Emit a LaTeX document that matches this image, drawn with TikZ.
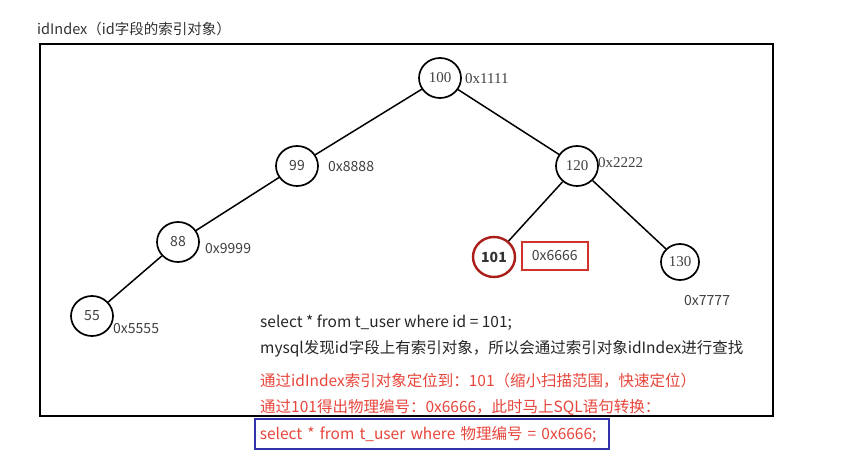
\documentclass[tikz,border=0pt]{standalone}
\usepackage{fontspec}
\setmainfont{Noto Sans CJK SC}
\newfontfamily\numfont{Liberation Serif}
\usetikzlibrary{shapes.geometric}
\begin{document}
\begin{tikzpicture}[x=1pt,y=-1pt,
  tnode/.style={draw=black,line width=1.7pt,ellipse,inner sep=0pt,minimum width=42pt,minimum height=40pt,font=\fontsize{14}{16}\selectfont,text=black!75},
  addr/.style={anchor=west,inner sep=0pt,font=\fontsize{14}{16}\selectfont,text=black!75},
  edge/.style={line width=1.5pt},
  txt/.style={anchor=west,inner sep=0pt,font=\fontsize{15.5}{18}\selectfont,text=black!85},
  redtxt/.style={anchor=west,inner sep=0pt,font=\fontsize{15.5}{18}\selectfont,text={rgb,255:red,232;green,70;blue,60}}
]
\useasboundingbox (0,0) rectangle (856,457);
\fill[white] (0,0) rectangle (856,457);
\node[anchor=west,inner sep=0pt,font=\fontsize{14.5}{16}\selectfont,text=black!80] (title) at (37,29) {idIndex（id字段的索引对象）};
\draw[line width=2pt] (40,44) rectangle (773,416);

\node[tnode,font=\numfont\fontsize{15}{17}\selectfont] (n100) at (440,78) {100};
\node[tnode] (n99) at (297,166) {99};
\node[tnode,font=\numfont\fontsize{15}{17}\selectfont] (n120) at (577,166) {120};
\node[tnode] (n88) at (178,242) {88};
\node[tnode] (n55) at (92,316) {55};
\node[tnode,draw={rgb,255:red,170;green,30;blue,25},line width=2.4pt,text=black!80,font=\bfseries\fontsize{14}{16}\selectfont] (n101) at (494,257) {101};
\node[tnode,font=\numfont\fontsize{15}{17}\selectfont,minimum width=38pt,minimum height=36pt] (n130) at (680,262) {130};

\draw[edge] (n100) -- (n99);
\draw[edge] (n100) -- (n120);
\draw[edge] (n99) -- (n88);
\draw[edge] (n88) -- (n55);
\draw[edge] (n120) -- (n101);
\draw[edge] (n120) -- (n130);

\node[addr,font=\numfont\fontsize{15}{17}\selectfont] (a100) at (465,79) {0x1111};
\node[addr] (a99) at (328,167) {0x8888};
\node[addr,font=\numfont\fontsize{15}{17}\selectfont] (a120) at (598,163) {0x2222};
\node[addr] (a88) at (205,249) {0x9999};
\node[addr] (a55) at (113,329) {0x5555};
\node[addr] (a130) at (684,301) {0x7777};
\node[addr,draw={rgb,255:red,210;green,50;blue,45},line width=1.6pt,minimum width=66pt,minimum height=28pt,inner sep=2pt] (a101) at (521,256) {0x6666};

\node[txt] (l1) at (260,323) {select * from t\_user where id = 101;};
\node[txt] (l2) at (260,349) {mysql发现id字段上有索引对象，所以会通过索引对象idIndex进行查找};
\node[redtxt] (l3) at (260,381) {通过idIndex索引对象定位到：101（缩小扫描范围，快速定位）};
\node[redtxt] (l4) at (260,407) {通过101得出物理编号：0x6666，此时马上SQL语句转换：};
\node[redtxt,draw={rgb,255:red,50;green,50;blue,170},line width=1.6pt,text width=344pt,align=left,minimum height=30pt,inner xsep=5pt] (l5) at (254,434) {select * from t\_user where 物理编号 = 0x6666;};
\end{tikzpicture}
\end{document}
